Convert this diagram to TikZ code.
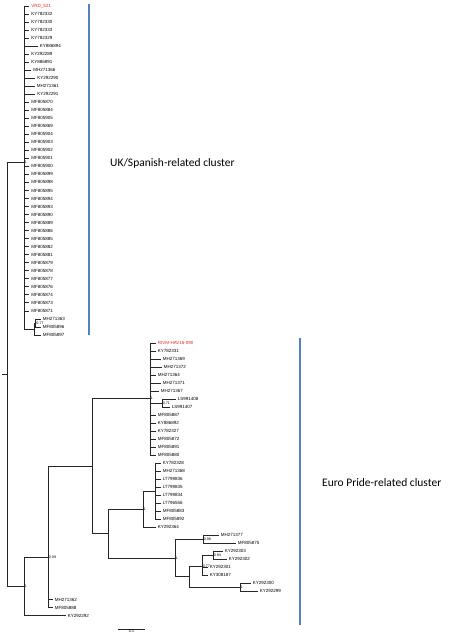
\documentclass[tikz,border=0pt]{standalone}
\usepackage{fontspec}
\usetikzlibrary{calc}
\setmainfont{Liberation Sans}
\newfontfamily\clusterfont{Carlito}
\definecolor{hlred}{RGB}{226,36,36}
\definecolor{clusterblue}{RGB}{84,130,190}
\tikzset{
  branch/.style={draw=black!85, line width=0.5bp},
  leaf/.style={anchor=west, inner xsep=1.6bp, inner ysep=0pt, font=\fontsize{4.5bp}{5bp}\selectfont},
  supp/.style={anchor=west, inner sep=0.8bp, font=\fontsize{3.6bp}{4bp}\selectfont},
  bracket/.style={draw=clusterblue, line width=1.4bp},
  clusterlabel/.style={anchor=west, inner sep=0pt, font=\clusterfont\fontsize{11.5bp}{13bp}\selectfont}
}
\begin{document}
\begin{tikzpicture}[x=1bp, y=-8.02bp]
\useasboundingbox (0,-0.748) rectangle (474,78.93);

% internal nodes (x in bp, y in leaf slots)
\coordinate (root) at (7,45.96);
\coordinate (rootend) at (2,45.96);
\coordinate (U) at (24,19.53);
\coordinate (V) at (34,40.25);
\coordinate (W) at (35.5,39.5);
\coordinate (R2) at (24,72.40);
\coordinate (G) at (48,68.79);
\coordinate (F) at (92,57.38);
\coordinate (A) at (150,48.964);
\coordinate (LS) at (162,49.5);
\coordinate (E) at (108,65.79);
\coordinate (C) at (143,62.75);
\coordinate (B) at (155,60.5);
\coordinate (D) at (175,68.833);
\coordinate (P) at (203,66.5);
\coordinate (Q) at (189,71.167);
\coordinate (R) at (202,69.833);
\coordinate (T) at (213,68.5);
\coordinate (S) at (240,72.5);

% backbone
\draw[branch] (rootend) -- (root);
\draw[branch] (root) |- (U);
\draw[branch] (root) |- (R2);
\draw[branch] (U) |- (V);
\draw[branch] (V) |- (W);
\draw[branch] (R2) |- (G);
\draw[branch] (G) |- (F);
\draw[branch] (F) |- (A);
\draw[branch] (F) |- (E);
\draw[branch] (A) |- (LS);
\draw[branch] (E) |- (C);
\draw[branch] (E) |- (D);
\draw[branch] (C) |- (B);
\draw[branch] (D) |- (P);
\draw[branch] (D) |- (Q);
\draw[branch] (Q) |- (R);
\draw[branch] (Q) |- (S);
\draw[branch] (R) |- (T);

% UK/Spanish-related clade
\node[leaf, text=hlred] (n0) at (29.5,0) {VRD\_521};
\draw[branch] (U) |- (n0.west);
\foreach \slot/\tip/\lab in {1/29.5/KY782332, 2/29.5/KY782330, 3/29.5/KY782333,
    4/29.5/KY782329, 5/38/KY886894, 6/29.5/KY292289, 7/29.5/KY886891,
    8/31.5/MH271366, 9/35.5/KY292290, 10/35/MH271361, 11/35.5/KY292291,
    12/29.5/MF805870, 13/29.5/MF805884, 14/29.5/MF805905, 15/29.5/MF805869,
    16/29.5/MF805904, 17/29.5/MF805903, 18/29.5/MF805902, 19/29.5/MF805901,
    20/29.5/MF805900, 21/29.5/MF805899, 22/29.5/MF805898, 23/29.5/MF805895,
    24/29.5/MF805894, 25/29.5/MF805893, 26/29.5/MF805890, 27/29.5/MF805889,
    28/29.5/MF805886, 29/29.5/MF805885, 30/29.5/MF805882, 31/29.5/MF805881,
    32/29.5/MF805879, 33/29.5/MF805878, 34/29.5/MF805877, 35/29.5/MF805876,
    36/29.5/MF805874, 37/29.5/MF805873, 38/29.5/MF805871}{
  \node[leaf] (n\slot) at (\tip,\slot) {\lab};
  \draw[branch] (U) |- (n\slot.west);
}
\foreach \slot/\lab in {39/MH271363, 40/MF805896}{
  \node[leaf] (n\slot) at (41,\slot) {\lab};
  \draw[branch] (W) |- (n\slot.west);
}
\node[leaf] (n41) at (41,41) {MF805897};
\draw[branch] (V) |- (n41.west);

% Euro Pride-related clade
\node[leaf, text=hlred] (n42) at (156,42) {RIVM-HAV16-090};
\draw[branch] (A) |- (n42.west);
\foreach \slot/\tip/\lab in {43/156/KY782331, 44/161/MH271369, 45/162/MH271372,
    46/156/MH271364, 47/161/MH271371, 48/159/MH271367, 51/156/MF805887,
    52/156/KY886892, 53/156/KY782327, 54/156/MF805872, 55/156/MF805891,
    56/156/MF805880}{
  \node[leaf] (n\slot) at (\tip,\slot) {\lab};
  \draw[branch] (A) |- (n\slot.west);
}
\node[leaf] (n49) at (176,49) {LS991408};
\node[leaf] (n50) at (170,50) {LS991407};
\draw[branch] (LS) |- (n49.west);
\draw[branch] (LS) |- (n50.west);
\foreach \slot/\lab in {57/KY782328, 58/MH271368, 59/LT799836, 60/LT799835,
    61/LT799834, 62/LT796556, 63/MF805883, 64/MF805892}{
  \node[leaf] (n\slot) at (161,\slot) {\lab};
  \draw[branch] (B) |- (n\slot.west);
}
\node[leaf] (n65) at (156,65) {KY292364};
\draw[branch] (C) |- (n65.west);
\node[leaf] (n66) at (219,66) {MH271377};
\node[leaf] (n67) at (236,67) {MF805875};
\draw[branch] (P) |- (n66.west);
\draw[branch] (P) |- (n67.west);
\node[leaf] (n68) at (223,68) {KY292303};
\node[leaf] (n69) at (227,69) {KY292302};
\draw[branch] (T) |- (n68.west);
\draw[branch] (T) |- (n69.west);
\node[leaf] (n70) at (208,70) {KY292301};
\node[leaf] (n71) at (208,71) {KY308187};
\draw[branch] (R) |- (n70.west);
\draw[branch] (R) |- (n71.west);
\node[leaf] (n72) at (251,72) {KY292300};
\node[leaf] (n73) at (258,73) {KY292299};
\draw[branch] (S) |- (n72.west);
\draw[branch] (S) |- (n73.west);

% outgroup leaves
\node[leaf] (n74) at (53,74) {MH271362};
\node[leaf] (n75) at (53,75) {MF805888};
\draw[branch] (G) |- (n74.west);
\draw[branch] (G) |- (n75.west);
\node[leaf] (n76) at (66,76) {KY292292};
\draw[branch] (R2) |- (n76.west);

% support values
\node[supp] (sU) at (U) {1};
\node[supp] (sW) at (W) {0.77};
\node[supp] (sA) at (A) {1};
\node[supp] (sLS) at (LS) {0.71};
\node[supp] (sC) at (C) {1};
\node[supp] (sD) at (D) {1};
\node[supp] (sP) at (P) {0.98};
\node[supp] (sT) at (T) {0.94};
\node[supp] (sR) at (R) {0.77};
\node[supp] (sS) at (S) {1};
\node[supp] (sG) at (G) {0.99};
\node[supp] (sR2) at (R2) {1};

% cluster brackets
\draw[bracket] (89,-0.25) -- (89,41.02);
\draw[bracket] (300,41.40) -- (300,77.18);
\node[clusterlabel] (ukl) at (110,19.58) {UK/Spanish-related cluster};
\node[clusterlabel] (eul) at (322,59.48) {Euro Pride-related cluster};

% scale bar
\coordinate (sbl) at (118,77.68);
\coordinate (sbr) at (145,77.68);
\draw[branch] (sbl) -- (sbr);
\node[supp, anchor=north] (sbt) at ($(sbl)!0.5!(sbr)$) {0.3};
\end{tikzpicture}
\end{document}
